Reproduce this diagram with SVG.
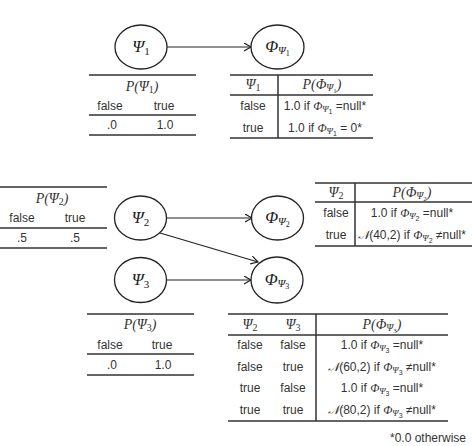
<svg xmlns="http://www.w3.org/2000/svg" width="474" height="446" viewBox="0 0 474 446">
<style>
  .node ellipse { fill: #fff; stroke: #222; stroke-width: 1.3; }
  .rule { stroke: #333; stroke-width: 1.5; fill: none; }
  .edge { stroke: #222; stroke-width: 1.2; fill: none; marker-end: url(#arr); }
  text { fill: #333; text-anchor: middle; font-family: "Liberation Sans", Arial, sans-serif; font-size: 12px; }
  .m { font-family: "Liberation Serif", "DejaVu Serif", serif; font-style: italic; }
  .h { font-size: 14px; }
  .big { font-size: 17px; fill: #222; }
  .up { font-style: normal; }
</style>
<defs>
  <marker id="arr" markerUnits="userSpaceOnUse" markerWidth="10" markerHeight="10" refX="7" refY="4" orient="auto">
    <path d="M0,0 L7,4 L0,8" fill="none" stroke="#222" stroke-width="1.2"/>
  </marker>
</defs>

<g id="connectors">
  <path class="edge" d="M167,47 L251,47"/>
  <path class="edge" d="M167,218 L252,218"/>
  <path class="edge" d="M160,233 L258,262"/>
  <path class="edge" d="M167,280 L251,280"/>
</g>

<g id="psi1" class="node">
  <ellipse cx="141" cy="47" rx="26" ry="22"/>
  <text x="141" y="52" class="m big">Ψ<tspan class="up" font-size="11" dy="3">1</tspan></text>
</g>
<g id="phi1" class="node">
  <ellipse cx="277.5" cy="47" rx="26.5" ry="22"/>
  <text x="277.5" y="52" class="m big">Φ<tspan font-size="11" dy="2">Ψ</tspan><tspan class="up" font-size="8" dy="2">1</tspan></text>
</g>
<g id="psi2" class="node">
  <ellipse cx="140.5" cy="218" rx="26" ry="22"/>
  <text x="140.5" y="223" class="m big">Ψ<tspan class="up" font-size="11" dy="3">2</tspan></text>
</g>
<g id="phi2" class="node">
  <ellipse cx="277.5" cy="218" rx="26" ry="22"/>
  <text x="277.5" y="223" class="m big">Φ<tspan font-size="11" dy="2">Ψ</tspan><tspan class="up" font-size="8" dy="2">2</tspan></text>
</g>
<g id="psi3" class="node">
  <ellipse cx="140.5" cy="280" rx="26" ry="22.5"/>
  <text x="140.5" y="285" class="m big">Ψ<tspan class="up" font-size="11" dy="3">3</tspan></text>
</g>
<g id="phi3" class="node">
  <ellipse cx="277" cy="280" rx="26" ry="23"/>
  <text x="277" y="285" class="m big">Φ<tspan font-size="11" dy="2">Ψ</tspan><tspan class="up" font-size="8" dy="2">3</tspan></text>
</g>

<g id="table-p-psi1">
  <path class="rule" d="M89,75 H196 M89,115 H196 M89,135 H196"/>
  <text x="142" y="91" class="m h">P(Ψ<tspan class="up" font-size="10" dy="2">1</tspan><tspan dy="-2">)</tspan></text>
  <text x="110" y="110">false</text>
  <text x="164" y="110">true</text>
  <text x="112" y="129">.0</text>
  <text x="165" y="129">1.0</text>
</g>

<g id="table-p-phi1">
  <path class="rule" d="M230,75 H373 M230,95 H373 M230,138 H373 M278,75 V138"/>
  <text x="253" y="89" class="m h">Ψ<tspan class="up" font-size="10" dy="2">1</tspan></text>
  <text x="322" y="89" class="m h">P(Φ<tspan font-size="10" dy="2">Ψ</tspan><tspan class="up" font-size="7" dy="1.5">1</tspan><tspan dy="-3.5">)</tspan></text>
  <text x="253" y="110">false</text>
  <text x="253" y="132">true</text>
  <text x="325" y="110">1.0 if <tspan class="m">Φ</tspan><tspan class="m" font-size="9" dy="2">Ψ</tspan><tspan font-size="7" dy="1.5">1</tspan><tspan dy="-3.5">  =null*</tspan></text>
  <text x="325" y="132">1.0 if <tspan class="m">Φ</tspan><tspan class="m" font-size="9" dy="2">Ψ</tspan><tspan font-size="7" dy="1.5">1</tspan><tspan dy="-3.5"> = 0*</tspan></text>
</g>

<g id="table-p-psi2">
  <path class="rule" d="M0,187 H107 M0,228 H107 M0,248 H107"/>
  <text x="52" y="203" class="m h">P(Ψ<tspan class="up" font-size="10" dy="2">2</tspan><tspan dy="-2">)</tspan></text>
  <text x="22" y="222">false</text>
  <text x="75" y="222">true</text>
  <text x="22" y="242">.5</text>
  <text x="75" y="242">.5</text>
</g>

<g id="table-p-phi2">
  <path class="rule" d="M315,183 H472 M315,202 H472 M315,246 H472 M355,183 V246"/>
  <text x="336" y="197" class="m h">Ψ<tspan class="up" font-size="10" dy="2">2</tspan></text>
  <text x="412" y="197" class="m h">P(Φ<tspan font-size="10" dy="2">Ψ</tspan><tspan class="up" font-size="7" dy="1.5">2</tspan><tspan dy="-3.5">)</tspan></text>
  <text x="336" y="217">false</text>
  <text x="336" y="239">true</text>
  <text x="412" y="217">1.0 if <tspan class="m">Φ</tspan><tspan class="m" font-size="9" dy="2">Ψ</tspan><tspan font-size="7" dy="1.5">2</tspan><tspan dy="-3.5">  =null*</tspan></text>
  <text x="412" y="239"><tspan class="m">𝒩</tspan>(40,2)  if <tspan class="m">Φ</tspan><tspan class="m" font-size="9" dy="2">Ψ</tspan><tspan font-size="7" dy="1.5">2</tspan><tspan dy="-3.5">  ≠null*</tspan></text>
</g>

<g id="table-p-psi3">
  <path class="rule" d="M87,314 H194 M87,354 H194 M87,375 H194"/>
  <text x="140" y="329" class="m h">P(Ψ<tspan class="up" font-size="10" dy="2">3</tspan><tspan dy="-2">)</tspan></text>
  <text x="110" y="349">false</text>
  <text x="162" y="349">true</text>
  <text x="112" y="369">.0</text>
  <text x="163" y="369">1.0</text>
</g>

<g id="table-p-phi3">
  <path class="rule" d="M228,314 H448 M228,335 H448 M228,421 H448 M316,314 V421"/>
  <text x="250" y="329" class="m h">Ψ<tspan class="up" font-size="10" dy="2">2</tspan></text>
  <text x="293" y="329" class="m h">Ψ<tspan class="up" font-size="10" dy="2">3</tspan></text>
  <text x="382" y="329" class="m h">P(Φ<tspan font-size="10" dy="2">Ψ</tspan><tspan class="up" font-size="7" dy="1.5">3</tspan><tspan dy="-3.5">)</tspan></text>
  <text x="250" y="349">false</text><text x="293" y="349">false</text>
  <text x="250" y="371">false</text><text x="293" y="371">true</text>
  <text x="250" y="392">true</text><text x="293" y="392">false</text>
  <text x="250" y="414">true</text><text x="293" y="414">true</text>
  <text x="382" y="349">1.0 if <tspan class="m">Φ</tspan><tspan class="m" font-size="9" dy="2">Ψ</tspan><tspan font-size="7" dy="1.5">3</tspan><tspan dy="-3.5">  =null*</tspan></text>
  <text x="382" y="371"><tspan class="m">𝒩</tspan>(60,2) if <tspan class="m">Φ</tspan><tspan class="m" font-size="9" dy="2">Ψ</tspan><tspan font-size="7" dy="1.5">3</tspan><tspan dy="-3.5">  ≠null*</tspan></text>
  <text x="382" y="392">1.0 if <tspan class="m">Φ</tspan><tspan class="m" font-size="9" dy="2">Ψ</tspan><tspan font-size="7" dy="1.5">3</tspan><tspan dy="-3.5">  =null*</tspan></text>
  <text x="382" y="414"><tspan class="m">𝒩</tspan>(80,2) if <tspan class="m">Φ</tspan><tspan class="m" font-size="9" dy="2">Ψ</tspan><tspan font-size="7" dy="1.5">3</tspan><tspan dy="-3.5">  ≠null*</tspan></text>
</g>

<text x="428" y="442" font-size="11">*0.0 otherwise</text>
</svg>
